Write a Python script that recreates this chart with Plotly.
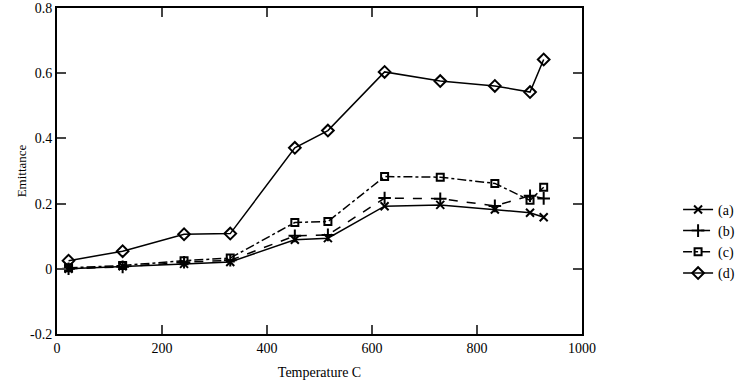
import plotly.graph_objects as go

# Temperature (C) for each measurement
temperature = [22, 125, 242, 330, 453, 516, 624, 730, 834, 901, 927]

# Emittance series
emit_a = [0.0, 0.008, 0.015, 0.021, 0.089, 0.094, 0.192, 0.196, 0.182, 0.172, 0.158]
emit_b = [0.0, 0.006, 0.02, 0.026, 0.101, 0.104, 0.217, 0.215, 0.193, 0.224, 0.216]
emit_c = [0.003, 0.01, 0.025, 0.033, 0.142, 0.145, 0.283, 0.281, 0.262, 0.21, 0.25]
emit_d = [0.025, 0.054, 0.106, 0.108, 0.371, 0.424, 0.604, 0.576, 0.561, 0.542, 0.642]

series_names = ["(a)", "(b)", "(c)", "(d)"]

FONT = "Liberation Serif, Times New Roman, serif"

styles = [
    dict(dash="solid", symbol="x-thin-open", size=8),
    dict(dash="dash", symbol="cross-thin-open", size=9),
    dict(dash="dashdot", symbol="square-open", size=7),
    dict(dash="solid", symbol="diamond-open", size=9),
]

fig = go.Figure()
for name, ys, st in zip(series_names, [emit_a, emit_b, emit_c, emit_d], styles):
    fig.add_scatter(
        x=temperature,
        y=ys,
        mode="lines+markers",
        name=name,
        line=dict(color="black", width=1.5, dash=st["dash"]),
        marker=dict(symbol=st["symbol"], size=st["size"], color="black",
                    line=dict(color="black", width=2)),
    )

fig.update_layout(
    width=750,
    height=383,
    margin=dict(l=57, r=168, t=8, b=49),
    plot_bgcolor="white",
    paper_bgcolor="white",
    font=dict(family=FONT, size=13, color="black"),
    legend=dict(
        x=1.183, y=0.43, xanchor="left", yanchor="top",
        font=dict(family=FONT, size=14, color="black"),
        tracegroupgap=0,
        bgcolor="rgba(0,0,0,0)",
    ),
)
fig.update_xaxes(
    range=[0, 1000],
    tickvals=[0, 200, 400, 600, 800, 1000],
    ticks="inside", ticklen=9, tickwidth=1.5,
    showline=True, linecolor="black", linewidth=2, mirror="ticks",
    showgrid=False, zeroline=False, automargin=False,
    tickfont=dict(family=FONT, size=14, color="black"),
    title=dict(text="Temperature C", font=dict(family=FONT, size=14, color="black"), standoff=12),
)
fig.update_yaxes(
    range=[-0.2, 0.8],
    tickvals=[-0.2, 0, 0.2, 0.4, 0.6, 0.8],
    ticktext=["-0.2", "0", "0.2", "0.4", "0.6", "0.8"],
    ticks="inside", ticklen=9, tickwidth=1.5,
    showline=True, linecolor="black", linewidth=2, mirror="ticks",
    showgrid=False, zeroline=False, automargin=False,
    tickfont=dict(family=FONT, size=14, color="black"),
    title=dict(text="Emittance", font=dict(family=FONT, size=13, color="black"), standoff=0),
)

# the page's default body margin would shift the figure by 8 px
fig.write_html(
    "out.html",
    config={"displayModeBar": False},
    post_script="document.body.style.margin = '0';",
)
